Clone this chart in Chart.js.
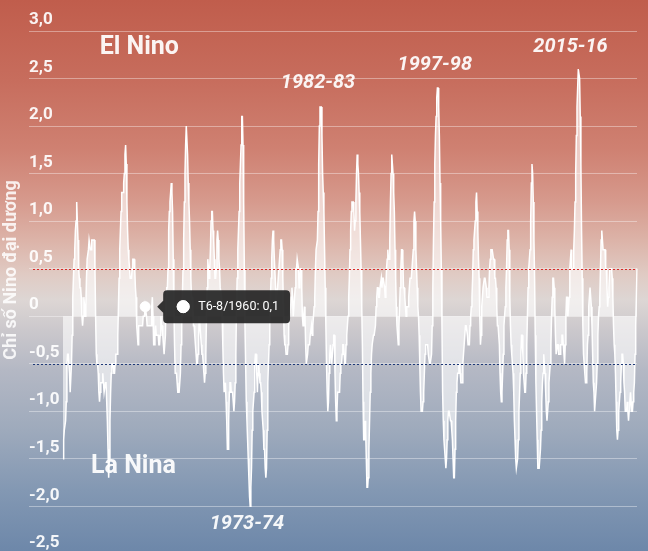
<!DOCTYPE html>
<html lang="vi">
<head>
<meta charset="utf-8">
<title>Chỉ số Nino đại dương</title>
<script src="https://cdn.jsdelivr.net/npm/chart.js@4.4.0/dist/chart.umd.min.js"></script>
<style>
  html, body { margin: 0; padding: 0; overflow: hidden; }
  #wrap {
    position: relative;
    width: 648px;
    height: 567px;
    background: linear-gradient(to bottom,
      #c05d4c 0px, #c76d5d 80px, #cf8172 150px, #d6998c 200px,
      #dcb3a8 240px, #e0cbc4 275px, #ddd6d4 300px, #cbc8cc 330px,
      #b4b8c4 370px, #9eaabc 430px, #8398b3 490px, #6a85a8 560px);
  }
</style>
</head>
<body>
<div id="wrap"><canvas id="oniChart"></canvas></div>
<script>
// ONI (3-month running mean), DJF 1950 -> AMJ 2023
const oni1950s = [
  -1.5, -1.3, -1.2, -1.2, -1.1, -0.9, -0.5, -0.4, -0.4, -0.4, -0.6, -0.8,
  -0.8, -0.5, -0.2, 0.2, 0.4, 0.6, 0.7, 0.9, 1.0, 1.2, 1.0, 0.8,
  0.5, 0.4, 0.3, 0.3, 0.2, 0.0, -0.1, 0.0, 0.2, 0.1, 0.0, 0.1,
  0.4, 0.6, 0.6, 0.7, 0.8, 0.8, 0.7, 0.7, 0.8, 0.8, 0.8, 0.8,
  0.8, 0.5, 0.0, -0.4, -0.5, -0.5, -0.6, -0.8, -0.9, -0.8, -0.7, -0.7,
  -0.7, -0.6, -0.7, -0.8, -0.8, -0.7, -0.7, -0.7, -1.1, -1.4, -1.7, -1.5,
  -1.1, -0.8, -0.6, -0.5, -0.5, -0.5, -0.6, -0.6, -0.5, -0.4, -0.4, -0.4,
  -0.2, 0.1, 0.4, 0.7, 0.9, 1.1, 1.3, 1.3, 1.3, 1.4, 1.5, 1.7,
  1.8, 1.6, 1.2, 0.9, 0.7, 0.6, 0.5, 0.4, 0.4, 0.4, 0.5, 0.6,
  0.6, 0.6, 0.5, 0.3, 0.2, -0.1, -0.2, -0.3, -0.1, -0.1, -0.1, -0.1
];
const oni1960s = [
  -0.1, -0.1, -0.1, 0.0, 0.0, 0.0, 0.1, 0.1, 0.0, -0.1, -0.1, -0.1,
  -0.1, -0.1, -0.1, -0.1, 0.1, 0.2, 0.0, -0.3, -0.3, -0.2, -0.1, -0.2,
  -0.2, -0.2, -0.2, -0.3, -0.3, -0.2, 0.0, -0.1, -0.1, -0.2, -0.3, -0.4,
  -0.4, -0.2, 0.2, 0.3, 0.3, 0.5, 0.9, 1.1, 1.2, 1.3, 1.4, 1.3,
  1.1, 0.6, 0.1, -0.3, -0.6, -0.6, -0.6, -0.7, -0.8, -0.8, -0.8, -0.8,
  -0.6, -0.3, -0.1, 0.2, 0.5, 0.8, 1.2, 1.5, 1.8, 2.0, 2.0, 1.7,
  1.4, 1.2, 1.0, 0.7, 0.4, 0.2, 0.2, 0.1, -0.1, -0.1, -0.2, -0.3,
  -0.4, -0.5, -0.5, -0.4, -0.2, 0.0, 0.0, -0.2, -0.3, -0.4, -0.4, -0.5,
  -0.6, -0.7, -0.6, -0.4, 0.0, 0.3, 0.6, 0.5, 0.4, 0.5, 0.7, 1.0,
  1.1, 1.1, 0.9, 0.8, 0.6, 0.4, 0.4, 0.5, 0.8, 0.9, 0.8, 0.6
];
const oni1970s = [
  0.5, 0.3, 0.3, 0.2, 0.0, -0.3, -0.6, -0.8, -0.8, -0.7, -0.9, -1.1,
  -1.4, -1.4, -1.1, -0.8, -0.7, -0.7, -0.8, -0.8, -0.8, -0.9, -1.0, -0.9,
  -0.7, -0.4, 0.1, 0.4, 0.7, 0.9, 1.1, 1.4, 1.6, 1.8, 2.1, 2.1,
  1.8, 1.2, 0.5, -0.1, -0.5, -0.9, -1.1, -1.3, -1.5, -1.7, -1.9, -2.0,
  -1.8, -1.6, -1.2, -1.0, -0.9, -0.8, -0.5, -0.4, -0.4, -0.6, -0.8, -0.6,
  -0.5, -0.6, -0.7, -0.7, -0.8, -1.0, -1.1, -1.2, -1.4, -1.4, -1.6, -1.7,
  -1.6, -1.2, -0.7, -0.5, -0.3, 0.0, 0.2, 0.4, 0.6, 0.8, 0.9, 0.8,
  0.6, 0.6, 0.3, 0.2, 0.2, 0.3, 0.4, 0.4, 0.6, 0.7, 0.8, 0.8,
  0.7, 0.4, 0.1, -0.2, -0.3, -0.3, -0.4, -0.4, -0.4, -0.3, -0.1, 0.0,
  0.0, 0.1, 0.2, 0.3, 0.2, 0.0, 0.0, 0.2, 0.3, 0.5, 0.5, 0.6
];
const oni1980s = [
  0.6, 0.5, 0.3, 0.4, 0.5, 0.5, 0.3, 0.0, -0.1, 0.0, 0.1, 0.0,
  -0.3, -0.5, -0.5, -0.4, -0.3, -0.3, -0.3, -0.2, -0.2, -0.1, -0.2, -0.1,
  0.0, 0.1, 0.2, 0.5, 0.7, 0.7, 0.8, 1.1, 1.6, 2.0, 2.2, 2.2,
  2.2, 1.9, 1.5, 1.3, 1.1, 0.7, 0.3, -0.1, -0.5, -0.8, -1.0, -0.9,
  -0.6, -0.4, -0.3, -0.4, -0.5, -0.4, -0.3, -0.2, -0.2, -0.6, -0.9, -1.1,
  -1.0, -0.8, -0.8, -0.8, -0.8, -0.6, -0.5, -0.5, -0.4, -0.3, -0.3, -0.4,
  -0.5, -0.5, -0.3, -0.2, -0.1, 0.0, 0.2, 0.4, 0.7, 0.9, 1.1, 1.2,
  1.2, 1.2, 1.1, 0.9, 1.0, 1.2, 1.5, 1.7, 1.6, 1.5, 1.3, 1.1,
  0.8, 0.5, 0.1, -0.3, -0.9, -1.3, -1.3, -1.1, -1.2, -1.5, -1.8, -1.8,
  -1.7, -1.4, -1.1, -0.8, -0.6, -0.4, -0.3, -0.3, -0.2, -0.2, -0.2, -0.1
];
const oni1990s = [
  0.1, 0.2, 0.3, 0.3, 0.2, 0.2, 0.3, 0.3, 0.4, 0.3, 0.4, 0.4,
  0.4, 0.3, 0.2, 0.3, 0.5, 0.6, 0.7, 0.6, 0.6, 0.8, 1.2, 1.5,
  1.7, 1.6, 1.5, 1.3, 1.1, 0.7, 0.4, 0.1, -0.1, -0.2, -0.3, -0.1,
  0.1, 0.3, 0.5, 0.7, 0.7, 0.6, 0.3, 0.3, 0.2, 0.1, 0.0, 0.1,
  0.1, 0.1, 0.2, 0.3, 0.4, 0.4, 0.4, 0.4, 0.6, 0.7, 1.0, 1.1,
  1.0, 0.7, 0.5, 0.3, 0.1, 0.0, -0.2, -0.5, -0.8, -1.0, -1.0, -1.0,
  -0.9, -0.8, -0.6, -0.4, -0.3, -0.3, -0.3, -0.3, -0.4, -0.4, -0.5, -0.5,
  -0.5, -0.4, -0.1, 0.3, 0.8, 1.2, 1.6, 1.9, 2.1, 2.3, 2.4, 2.4,
  2.2, 1.9, 1.4, 1.0, 0.5, -0.1, -0.8, -1.1, -1.3, -1.4, -1.5, -1.6,
  -1.5, -1.3, -1.1, -1.0, -1.0, -1.0, -1.1, -1.1, -1.2, -1.3, -1.5, -1.7
];
const oni2000s = [
  -1.7, -1.4, -1.1, -0.8, -0.7, -0.6, -0.6, -0.5, -0.5, -0.6, -0.7, -0.7,
  -0.7, -0.5, -0.4, -0.3, -0.3, -0.1, -0.1, -0.1, -0.2, -0.3, -0.3, -0.3,
  -0.1, 0.0, 0.1, 0.2, 0.4, 0.7, 0.8, 0.9, 1.0, 1.2, 1.3, 1.1,
  0.9, 0.6, 0.4, 0.0, -0.3, -0.2, 0.1, 0.2, 0.3, 0.3, 0.4, 0.4,
  0.4, 0.3, 0.2, 0.2, 0.2, 0.3, 0.5, 0.6, 0.7, 0.7, 0.7, 0.7,
  0.6, 0.6, 0.4, 0.4, 0.3, 0.1, -0.1, -0.1, -0.1, -0.3, -0.6, -0.8,
  -0.9, -0.8, -0.6, -0.4, -0.1, 0.0, 0.1, 0.3, 0.5, 0.8, 0.9, 0.9,
  0.7, 0.2, -0.1, -0.3, -0.4, -0.5, -0.6, -0.8, -1.1, -1.3, -1.5, -1.6,
  -1.6, -1.5, -1.3, -1.0, -0.8, -0.6, -0.4, -0.2, -0.2, -0.4, -0.6, -0.7,
  -0.8, -0.8, -0.6, -0.3, 0.0, 0.3, 0.5, 0.6, 0.7, 1.0, 1.4, 1.6
];
const oni2010s = [
  1.5, 1.2, 0.8, 0.4, -0.2, -0.7, -1.0, -1.3, -1.6, -1.6, -1.6, -1.6,
  -1.4, -1.2, -0.9, -0.7, -0.6, -0.4, -0.5, -0.6, -0.8, -1.0, -1.1, -1.0,
  -0.9, -0.7, -0.6, -0.5, -0.3, 0.0, 0.2, 0.4, 0.4, 0.3, 0.1, -0.2,
  -0.4, -0.4, -0.3, -0.3, -0.4, -0.4, -0.4, -0.3, -0.3, -0.2, -0.2, -0.3,
  -0.4, -0.5, -0.3, 0.0, 0.2, 0.2, 0.0, 0.1, 0.2, 0.5, 0.6, 0.7,
  0.5, 0.5, 0.5, 0.7, 0.9, 1.2, 1.5, 1.9, 2.2, 2.4, 2.6, 2.6,
  2.5, 2.1, 1.6, 0.9, 0.4, -0.1, -0.4, -0.5, -0.6, -0.7, -0.7, -0.6,
  -0.3, -0.2, 0.1, 0.2, 0.3, 0.3, 0.1, -0.1, -0.4, -0.7, -0.8, -1.0,
  -0.9, -0.9, -0.7, -0.5, -0.2, 0.0, 0.1, 0.2, 0.5, 0.8, 0.9, 0.8,
  0.7, 0.7, 0.7, 0.7, 0.5, 0.5, 0.3, 0.1, 0.2, 0.3, 0.5, 0.5
];
const oni2020s = [
  0.5, 0.5, 0.4, 0.2, -0.1, -0.3, -0.4, -0.6, -0.9, -1.2, -1.3, -1.2,
  -1.0, -0.9, -0.8, -0.7, -0.5, -0.4, -0.4, -0.5, -0.7, -0.8, -1.0, -1.0,
  -1.0, -0.9, -1.0, -1.1, -1.0, -0.9, -0.8, -0.9, -1.0, -1.0, -0.9, -0.8,
  -0.7, -0.4, -0.1, 0.2, 0.5
];

const FIRST_YEAR = 1950;
const seasons = ['T12-2', 'T1-3', 'T2-4', 'T3-5', 'T4-6', 'T5-7', 'T6-8', 'T7-9', 'T8-10', 'T9-11', 'T10-12', 'T11-1'];
const yTicks = { min: -2.5, max: 3.0, step: 0.5 };
const thresholds = [0.5, -0.5];
const highlightIndex = 126; // T6-8/1960

const oniValues = [].concat(oni1950s, oni1960s, oni1970s, oni1980s, oni1990s, oni2000s, oni2010s, oni2020s);
const labels = oniValues.map((_, i) => seasons[i % 12] + '/' + (FIRST_YEAR + Math.floor(i / 12)));

// text labels placed in data space (season index, value)
const notes = [
  { text: 'El Nino', i: 117, v: 2.82, font: 'bold 25px Roboto' },
  { text: 'La Nina', i: 108, v: -1.58, font: 'bold 25px Roboto' },
  { text: '1982-83', i: 391, v: 2.45, font: 'italic bold 20px Roboto' },
  { text: '1997-98', i: 570, v: 2.64, font: 'italic bold 20px Roboto' },
  { text: '2015-16', i: 778, v: 2.83, font: 'italic bold 20px Roboto' },
  { text: '1973-74', i: 282, v: -2.19, font: 'italic bold 20px Roboto' }
];

const fmt = (v) => (v === 0 ? '0' : v.toFixed(1).replace('.', ','));

const overlay = {
  id: 'overlay',
  afterDatasetsDraw(chart) {
    const { ctx, chartArea, scales } = chart;
    const x = scales.x, y = scales.y;
    ctx.save();

    // dotted El Nino / La Nina thresholds
    ctx.lineWidth = 1;
    ctx.setLineDash([2, 2]);
    thresholds.forEach((t) => {
      const py = Math.round(y.getPixelForValue(t)) + 0.5;
      ctx.strokeStyle = t > 0 ? '#d62a2a' : '#1f3a78';
      ctx.beginPath();
      ctx.moveTo(chartArea.left - 30, py);
      ctx.lineTo(chartArea.right, py);
      ctx.stroke();
    });
    ctx.setLineDash([]);

    ctx.fillStyle = 'rgba(255,255,255,0.93)';
    ctx.textAlign = 'center';
    ctx.textBaseline = 'middle';
    notes.forEach((n) => {
      ctx.font = n.font;
      ctx.fillText(n.text, x.getPixelForValue(n.i), y.getPixelForValue(n.v));
    });

    // y axis title
    ctx.font = 'bold 18px Roboto';
    ctx.fillStyle = 'rgba(255,255,255,0.85)';
    ctx.translate(11, 270);
    ctx.rotate(-Math.PI / 2);
    ctx.fillText('Chỉ số Nino đại dương', 0, 0);
    ctx.restore();
  }
};

Chart.defaults.font.family = 'Roboto';

const chart = new Chart(document.getElementById('oniChart'), {
  type: 'line',
  data: {
    labels: labels,
    datasets: [{
      label: 'ONI',
      data: oniValues,
      borderColor: '#ffffff',
      borderWidth: 1.5,
      backgroundColor: 'rgba(255,255,255,0.6)',
      fill: 'origin',
      tension: 0,
      pointRadius: 0,
      pointHoverRadius: 5,
      pointHoverBackgroundColor: '#ffffff',
      pointHoverBorderColor: '#ffffff',
      pointHoverBorderWidth: 1
    }]
  },
  options: {
    responsive: true,
    maintainAspectRatio: false,
    animation: false,
    layout: { padding: { left: 29, top: 31, right: 11, bottom: 0 } },
    interaction: { mode: 'nearest', intersect: false, axis: 'x' },
    plugins: {
      legend: { display: false },
      tooltip: {
        xAlign: 'left',
        yAlign: 'center',
        backgroundColor: 'rgba(38,38,38,0.93)',
        cornerRadius: 4,
        caretSize: 6,
        caretPadding: 12,
        padding: { top: 9, bottom: 9, left: 14, right: 11 },
        bodyFont: { family: 'Roboto', size: 12.5 },
        bodyColor: '#ffffff',
        displayColors: true,
        usePointStyle: true,
        boxWidth: 12,
        boxHeight: 12,
        boxPadding: 7,
        callbacks: {
          title: () => [],
          label: (c) => c.label + ': ' + fmt(c.raw),
          labelColor: () => ({ borderColor: '#ffffff', backgroundColor: '#ffffff' }),
          labelPointStyle: () => ({ pointStyle: 'circle', rotation: 0 })
        }
      }
    },
    scales: {
      x: { display: false },
      y: {
        min: yTicks.min,
        max: yTicks.max,
        afterFit: (s) => { s.width = 34; },
        border: { display: false },
        grid: { color: 'rgba(255,255,255,0.38)', tickLength: 34, lineWidth: 1 },
        ticks: {
          stepSize: yTicks.step,
          crossAlign: 'far',
          labelOffset: -11,
          color: 'rgba(255,255,255,0.92)',
          font: { family: 'Roboto', size: 17, weight: 'bold' },
          callback: (v) => fmt(v)
        }
      }
    }
  },
  plugins: [overlay]
});

// show the hovered point and its tooltip like in the screenshot
const active = [{ datasetIndex: 0, index: highlightIndex }];
const pt = chart.getDatasetMeta(0).data[highlightIndex];
chart.setActiveElements(active);
chart.tooltip.setActiveElements(active, { x: pt.x, y: pt.y });
chart.draw();
</script>
</body>
</html>
